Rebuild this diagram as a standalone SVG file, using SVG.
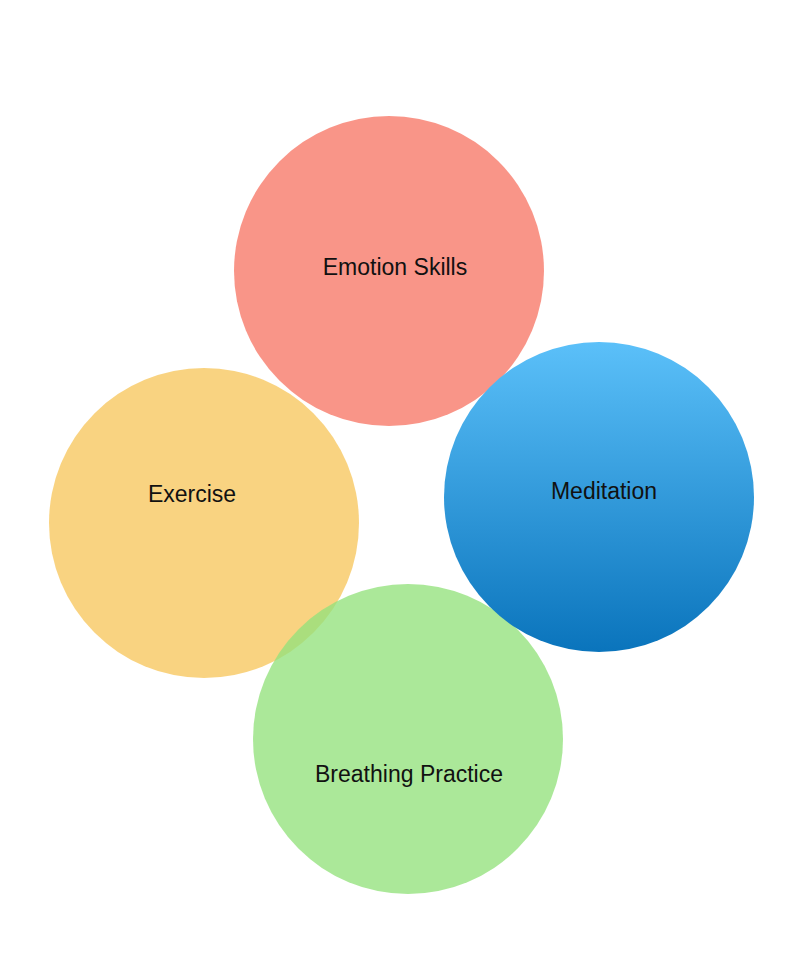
<svg xmlns="http://www.w3.org/2000/svg" width="801" height="963" viewBox="0 0 801 963">
<style>
text{font-family:"Liberation Sans",Arial,sans-serif;font-size:23px;fill:#111;text-anchor:middle}
</style>
<defs>
<linearGradient id="blue" x1="0" y1="0" x2="0" y2="1">
<stop offset="0" stop-color="#5BC0F9"/>
<stop offset="1" stop-color="#0A74BC"/>
</linearGradient>
</defs>
<rect width="801" height="963" fill="#fff"/>
<g id="emotion"><circle cx="389" cy="271" r="155" fill="#F98F82" opacity="0.95"/><text x="395" y="275">Emotion Skills</text></g>
<g id="exercise"><circle cx="204" cy="523" r="155" fill="#F8C862" opacity="0.8"/><text x="192" y="502">Exercise</text></g>
<g id="breathing"><circle cx="408" cy="739" r="155" fill="#94E27C" opacity="0.78"/><text x="409" y="782">Breathing Practice</text></g>
<g id="meditation"><circle cx="599" cy="497" r="155" fill="url(#blue)"/><text x="604" y="499">Meditation</text></g>
<g id="connectors"/>
</svg>
